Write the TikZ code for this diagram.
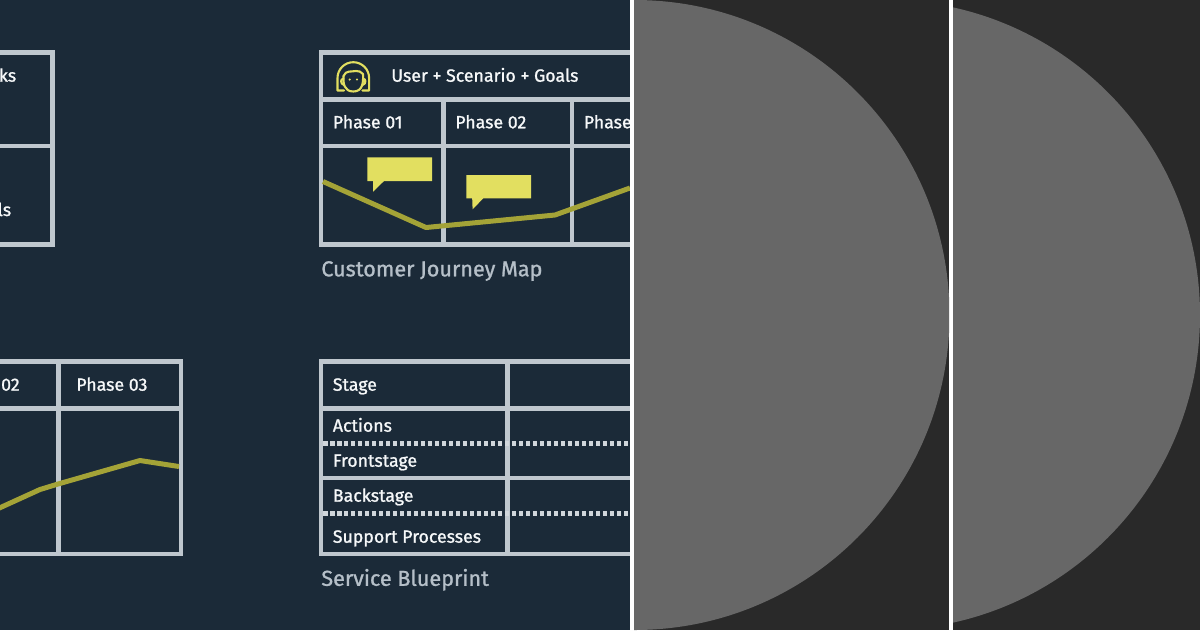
\documentclass[tikz,border=0pt]{standalone}
\usepackage{fontspec}
\setmainfont{Fira Sans}
\newfontfamily\labelfont{Fira Sans}[FakeBold=1.1]
\definecolor{backdrop}{HTML}{1B2A38}
\definecolor{gridgrey}{HTML}{BFC7CE}
\definecolor{captiongrey}{HTML}{B5BFC8}
\definecolor{labelwhite}{HTML}{F6F8F9}
\definecolor{panelgrey}{HTML}{292929}
\definecolor{discgrey}{HTML}{676767}
\definecolor{linegreen}{HTML}{A4A337}
\definecolor{bubbleyellow}{HTML}{E2DF60}
\tikzset{
	gridline/.style={draw=gridgrey, line width=.096cm, line cap=rect},
	dotline/.style={draw=gridgrey!70!labelwhite, line width=.09cm, dash pattern=on .09cm off .05cm},
	curveline/.style={draw=linegreen, line width=.1cm, line join=round},
	bubble/.style={fill=bubbleyellow},
	iconline/.style={draw=bubbleyellow, line width=.042cm, line join=round, line cap=round},
	celllabel/.style={anchor=base west, inner sep=0pt, text=labelwhite, font=\labelfont\fontsize{10.1}{12}\selectfont},
	cutlabel/.style={anchor=base east, inner sep=0pt, text=labelwhite, font=\labelfont\fontsize{10.1}{12}\selectfont},
	caption/.style={anchor=base west, inner sep=0pt, text=captiongrey, font=\labelfont\fontsize{12.3}{14}\selectfont}
}
\begin{document}
\begin{tikzpicture}[x=.02cm, y=-.02cm]
	\useasboundingbox (0,0) rectangle (1200,630);
	\fill[backdrop] (0,0) rectangle (630,630);

	\draw[gridline] (-10,52.5) -- (52.5,52.5) -- (52.5,244.5) -- (-10,244.5);
	\draw[gridline] (-10,146) -- (52.5,146);

	\draw[gridline] (630,52.5) -- (321,52.5) -- (321,244.5) -- (630,244.5);
	\foreach \y in {99.5,146}
		\draw[gridline] (321,\y) -- (630,\y);
	\foreach \x in {443.5,572}
		\draw[gridline] (\x,99.5) -- (\x,244.5);

	\draw[gridline] (-10,361.5) -- (181,361.5) -- (181,554) -- (-10,554);
	\draw[gridline] (-10,408.3) -- (181,408.3);
	\draw[gridline] (58.5,361.5) -- (58.5,554);

	\draw[gridline] (630,361.5) -- (321,361.5) -- (321,554) -- (630,554);
	\foreach \y in {408.3,478}
		\draw[gridline] (321,\y) -- (630,\y);
	\draw[gridline] (507.5,361.5) -- (507.5,554);
	\foreach \y in {443.3,513.3}
		\draw[dotline] (323,\y) -- (630,\y);

	\draw[curveline] (323,181.5) -- (426,227.5) -- (555,215) -- (630,188);
	\draw[curveline] (-5,510) -- (40,489.5) -- (58,484) -- (140,460.5) -- (179,466.5);

	\fill[bubble] (367.3,157.3) -- (432,157.3) -- (432,181) -- (384,181) -- (373.2,191.7) -- (373,181) -- (367.3,181) -- cycle;
	\fill[bubble] (466.3,175) -- (531,175) -- (531,198.3) -- (483.3,198.3) -- (472.6,209.3) -- (472.2,198.3) -- (466.3,198.3) -- cycle;

	\draw[iconline] (344,90.5) -- (337.5,90.5) -- (337.5,78) arc[start angle=180, end angle=0, x radius=15.8, y radius=-15.8] -- (369.1,90.5) -- (362.5,90.5);
	\draw[iconline] (343.5,76) .. controls (343,83) and (344,91.5) .. (353.3,91.5) .. controls (362.5,91.5) and (363.5,83) .. (363,74);
	\draw[iconline] (343.5,76) .. controls (346,70) and (351,72) .. (356,71) .. controls (359,70.5) and (361,72) .. (363,74);
	\draw[iconline] (343.5,79) .. controls (340.5,78) and (340,84) .. (344,85);
	\draw[iconline] (363.2,79) .. controls (366,78) and (366.5,84) .. (362.6,85);
	\fill[bubbleyellow] (349.7,79.5) circle (1.2) (357,79.5) circle (1.2);

	\node[celllabel] (user) at (391,81.7) {User + Scenario + Goals};
	\node[celllabel] (phaseone) at (332.5,128.3) {Phase 01};
	\node[celllabel] (phasetwo) at (455,128.3) {Phase 02};
	\node[celllabel] (phasethree) at (583.5,128.3) {Phase};
	\node[caption] (journey) at (321,276.3) {Customer Journey Map};

	\node[celllabel] (stage) at (332.5,390.7) {Stage};
	\node[celllabel] (actions) at (332.5,431.7) {Actions};
	\node[celllabel] (frontstage) at (332.5,466.7) {Frontstage};
	\node[celllabel] (backstage) at (332.5,501.7) {Backstage};
	\node[celllabel] (support) at (332.5,542.7) {Support Processes};
	\node[caption] (blueprint) at (321,585.8) {Service Blueprint};

	\node[celllabel] (curvethree) at (76,390.7) {Phase 03};
	\node[cutlabel] (curvetwo) at (20,390.7) {02};
	\node[cutlabel] (tasks) at (16.5,81.7) {ks};
	\node[cutlabel] (goals) at (11.5,216) {ls};

	\fill[white] (630,0) rectangle (1200,630);
	\fill[panelgrey] (634,0) rectangle (949,630);
	\fill[panelgrey] (953,0) rectangle (1200,630);
	\begin{scope}
		\clip (634,0) rectangle (949,630);
		\fill[discgrey] (634.5,315) circle (315);
	\end{scope}
	\begin{scope}
		\clip (953,0) rectangle (1200,630);
		\fill[discgrey] (885,315) circle (315);
	\end{scope}
\end{tikzpicture}
\end{document}
